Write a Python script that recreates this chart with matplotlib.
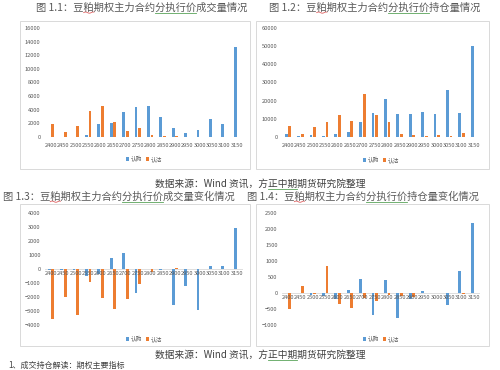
import matplotlib
matplotlib.use("Agg")
import matplotlib.pyplot as plt
from matplotlib.patches import Rectangle
from matplotlib.lines import Line2D
import numpy as np

plt.rcParams['font.family'] = ['Noto Sans CJK SC', 'DejaVu Sans']

categories = ["2400", "2450", "2500", "2550", "2600", "2650", "2700", "2750",
              "2800", "2850", "2900", "2950", "3000", "3050", "3100", "3150"]

# 图1.1 成交量
vol_call = [0, 20, 60, 300, 1950, 2100, 3600, 4400, 4600, 2950, 1250, 650, 1050, 2700, 1850, 13250]
vol_put = [1850, 700, 1650, 3750, 4550, 2150, 850, 1250, 250, 100, 150, 20, 10, 10, 10, 10]

# 图1.2 持仓量
oi_call = [1500, 400, 900, 500, 1850, 2600, 8150, 13100, 20700, 12600, 12600, 13500, 12600, 25700, 13100, 50200]
oi_put = [5900, 1850, 5400, 8000, 11850, 8700, 23500, 12200, 8300, 1500, 1100, 550, 1100, 400, 2000, 100]

# 图1.3 成交量变化
dvol_call = [-100, -100, -100, -480, -360, 790, 1150, -1700, 0, -100, -2600, -1200, -2900, 240, 240, 2930]
dvol_put = [-3550, -1970, -3260, -950, -2100, -2870, -2150, -1080, -240, 0, 50, 0, 0, 0, 0, 0]

# 图1.4 持仓量变化
doi_call = [-10, -10, -70, -80, -190, 100, 450, -680, 420, -790, -180, 60, 0, -360, 680, 2200]
doi_put = [-490, 220, -20, 850, -340, -460, -150, -250, -70, -80, -130, 0, 0, 0, -30, 0]

legend_labels = ["认购", "认沽"]

titles = ["图 1.1：豆粕期权主力合约分执行价成交量情况",
          "图 1.2：豆粕期权主力合约分执行价持仓量情况",
          "图 1.3：豆粕期权主力合约分执行价成交量变化情况",
          "图 1.4：豆粕期权主力合约分执行价持仓量变化情况"]
source_text = "数据来源：Wind 资讯，方正中期期货研究院整理"
bottom_text = "1、成交持仓解读：期权主要指标"

BLUE = "#5B9BD5"
ORANGE = "#ED7D31"
TICK = "#595959"
TFS = 4.1

W, H = 500, 370
fig = plt.figure(figsize=(W / 100, H / 100), dpi=100)
fig.patch.set_facecolor("white")


def fx(x):
    return x / W


def fy(y):
    return 1 - y / H


def box(x0, y0, x1, y1):
    r = Rectangle((fx(x0), fy(y1)), fx(x1) - fx(x0), fy(y0) - fy(y1),
                  transform=fig.transFigure, facecolor="white",
                  edgecolor="#d9d9d9", lw=0.7, zorder=0)
    fig.add_artist(r)


def chart(L, R, ytop, ybot, ymin, ymax, step, call, put, zero_labels, legend_y):
    ax = fig.add_axes([fx(L), fy(ybot), fx(R) - fx(L), fy(ytop) - fy(ybot)])
    ax.set_facecolor("none")
    x = np.arange(len(categories))
    w = 0.23
    off = 0.145
    ax.bar(x - off, call, width=w, color=BLUE, label=legend_labels[0], zorder=2)
    ax.bar(x + off, put, width=w, color=ORANGE, label=legend_labels[1], zorder=2)
    ax.set_xlim(-0.5, len(categories) - 0.5)
    ax.set_ylim(ymin, ymax)
    ax.set_yticks(np.arange(ymin, ymax + 1, step))
    ax.tick_params(axis="y", length=0, labelsize=TFS, labelcolor=TICK, pad=3)
    for s in ax.spines.values():
        s.set_visible(False)
    ax.axhline(0, color="#d9d9d9", lw=0.6, zorder=1)
    if zero_labels:
        ax.set_xticks([])
        for i, c in enumerate(categories):
            ax.annotate(c, (i, 0), xytext=(0, -1.2), textcoords="offset points",
                        ha="center", va="top", fontsize=TFS, color=TICK, zorder=3)
    else:
        ax.set_xticks(x)
        ax.set_xticklabels(categories)
        ax.tick_params(axis="x", length=0, labelsize=TFS, labelcolor=TICK, pad=4)
    cx = (L + R) / 2
    fig.legend(*ax.get_legend_handles_labels(), loc="center",
               bbox_to_anchor=(fx(cx), fy(legend_y)), ncol=2, frameon=False,
               fontsize=TFS, handlelength=0.5, handleheight=0.5,
               handletextpad=0.3, columnspacing=0.8, labelcolor=TICK)
    return ax


# boxes
box(20, 21, 250, 169)
box(256, 21, 489, 169)
box(20, 204, 250, 346)
box(256, 204, 489, 346)

chart(44.8, 243.2, 28, 137, 0, 16000, 2000, vol_call, vol_put, False, 159)
chart(281.8, 480.2, 28, 137, 0, 60000, 10000, oi_call, oi_put, False, 160)
chart(44.8, 243.2, 213, 325, -4000, 4000, 1000, dvol_call, dvol_put, True, 339)
chart(281.8, 480.2, 213, 325, -1000, 2500, 500, doi_call, doi_put, True, 339)

TCOL = "#595959"
texts = []
texts.append(fig.text(fx(142), fy(8), titles[0], ha="center", va="center", fontsize=7.4, color=TCOL))
texts.append(fig.text(fx(375), fy(8), titles[1], ha="center", va="center", fontsize=7.4, color=TCOL))
texts.append(fig.text(fx(3), fy(197), titles[2], ha="left", va="center", fontsize=7.4, color=TCOL))
texts.append(fig.text(fx(247), fy(197), titles[3], ha="left", va="center", fontsize=7.4, color=TCOL))
src1 = fig.text(fx(260), fy(184), source_text, ha="center", va="center", fontsize=7, color="#404040")
src2 = fig.text(fx(260), fy(355), source_text, ha="center", va="center", fontsize=7, color="#404040")
fig.text(fx(8), fy(365.5), bottom_text, ha="left", va="center", fontsize=5.8, color="#404040")

# underline decorations (spell-check / hyperlink-style marks as in the document)
renderer = fig.canvas.get_renderer()


def sub_span(t, sub):
    s = t.get_text()
    i = s.index(sub)
    full = t.get_window_extent(renderer)
    tmp = fig.text(0, 0, s[:i], fontsize=t.get_fontsize())
    w0 = tmp.get_window_extent(renderer).width if i > 0 else 0
    tmp.set_text(s[:i + len(sub)])
    w1 = tmp.get_window_extent(renderer).width
    tmp.remove()
    return full.x0 + w0, full.x0 + w1, full.y0


def underline(t, sub, color, wavy=False, dy=0.5):
    x0, x1, yb = sub_span(t, sub)
    y = yb + dy
    if wavy:
        xs = np.linspace(x0, x1, 40)
        ys = y + 0.6 * np.sin((xs - x0) / 1.2)
    else:
        xs = np.array([x0, x1])
        ys = np.array([y, y])
    ln = Line2D(xs / (W), ys / (H), transform=fig.transFigure, color=color, lw=0.6)
    fig.add_artist(ln)


for t in texts:
    underline(t, "粕", "#e06060", wavy=True)
    underline(t, "分执行价", "#5aa35a")
for t in (src1, src2):
    underline(t, "正中期", "#5aa35a")

fig.savefig("out.png", dpi=100, facecolor="white")
